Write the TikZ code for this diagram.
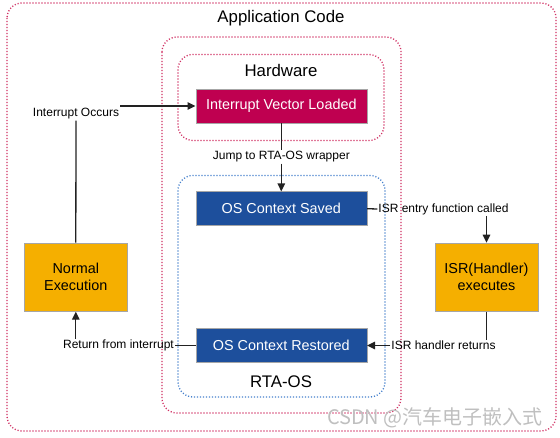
\documentclass[tikz,border=0pt]{standalone}
\usepackage{fontspec}
\setmainfont{Liberation Sans}
\newfontfamily\cjk{Noto Sans CJK SC}
\usetikzlibrary{arrows.meta}
\definecolor{hwred}{HTML}{BF0050}
\definecolor{osblue}{HTML}{1D4F9C}
\definecolor{execorange}{HTML}{F5AF00}
\definecolor{dotred}{HTML}{D02F63}
\definecolor{dotblue}{HTML}{4580CC}
\definecolor{linegray}{HTML}{222222}
\tikzset{
  dotbox/.style={line width=1.3pt, dash pattern=on 1.1pt off 1.9pt, rounded corners=15pt},
  redbox/.style={dotbox, draw=dotred},
  bluebox/.style={dotbox, draw=dotblue},
  flowbox/.style={draw=gray!70, line width=0.5pt, minimum width=171pt, minimum height=34pt, text=white, font=\fontsize{14.4}{17}\selectfont, inner sep=0pt},
  execbox/.style={draw=gray!70, line width=0.5pt, fill=execorange, minimum width=103pt, minimum height=68.5pt, font=\fontsize{14.4}{17}\selectfont, align=center, inner sep=0pt},
  lbl/.style={font=\fontsize{12}{14}\selectfont, inner sep=1pt},
  title/.style={font=\fontsize{16.8}{19}\selectfont, inner sep=0pt},
  conn/.style={draw=linegray, line width=1.3pt},
  arr/.style={conn, -{Triangle[length=8pt,width=7.5pt]}},
}
\begin{document}
\begin{tikzpicture}[x=1pt,y=-1pt]
\useasboundingbox (0,0) rectangle (560,438);
% containers
\draw[redbox] (7,3) rectangle (556,431);
\draw[redbox] (162,37) rectangle (401,413);
\draw[redbox] (178,54.5) rectangle (384,140.5);
\draw[bluebox] (178,175.5) rectangle (385,397);
\node[title] (appt) at (281,18) {Application Code};
\node[title] (hwt) at (281,70) {Hardware};
\node[title] (rtat) at (281,382) {RTA-OS};
% boxes
\node[flowbox, fill=hwred] (ivl) at (281.3,106) {Interrupt Vector Loaded};
\node[flowbox, fill=osblue] (ocs) at (281.3,208.7) {OS Context Saved};
\node[flowbox, fill=osblue] (ocr) at (281.3,345.5) {OS Context Restored};
\node[execbox] (ne) at (75.8,277.2) {Normal\\Execution};
\node[execbox] (isr) at (486.5,277.2) {ISR(Handler)\\executes};
% labels
\node[lbl] (io) at (76,114) {Interrupt Occurs};
\node[lbl] (jump) at (281.3,157) {Jump to RTA-OS wrapper};
\node[lbl] (entry) at (443.5,209) {ISR entry function called};
\node[lbl] (ret) at (443.5,345.5) {ISR handler returns};
\node[lbl] (rfi) at (118.5,345.5) {Return from interrupt};
% connectors
\draw[conn] (ne.north) -- (io.south);
\draw[arr] (io.east |- ivl.west) -- (ivl.west);
\draw[conn] (ivl.south) -- (jump.north);
\draw[arr] (jump.south) -- (ocs.north);
\draw[conn] (ocs.east) -- (entry.west);
\draw[arr] (entry.south -| isr.north) -- (isr.north);
\draw[conn] (isr.south) -- (ret.north -| isr.south);
\draw[arr] (ret.west) -- (ocr.east);
\draw[conn] (ocr.west) -- (rfi.east);
\draw[arr] (rfi.north -| ne.south) -- (ne.south);
% watermark
\node[font=\cjk\fontsize{20}{22}\selectfont, text=gray!50, inner sep=0pt, anchor=east] (wm) at (543,418) {CSDN @汽车电子嵌入式};
\end{tikzpicture}
\end{document}
